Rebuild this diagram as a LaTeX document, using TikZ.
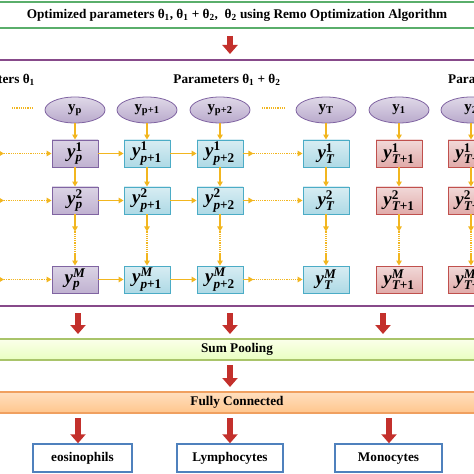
\documentclass[tikz,border=0pt]{standalone}
\usepackage{amsmath}
\usepackage{fontspec}
\setmainfont{Liberation Serif}
\usetikzlibrary{arrows.meta,shapes.geometric,calc}
\definecolor{ycol}{HTML}{F2B61F}
\definecolor{rcol}{HTML}{C3302C}
\definecolor{pdraw}{HTML}{8064A2}
\definecolor{cdraw}{HTML}{4BACC6}
\definecolor{rdraw}{HTML}{C0504D}
\definecolor{frame}{HTML}{874A8A}
\definecolor{gline}{HTML}{5AAE6B}
\definecolor{bdraw}{HTML}{4F81BD}
\definecolor{spline}{HTML}{A9C46A}
\definecolor{fcline}{HTML}{F0A060}
\tikzset{
  yarr/.style={draw=ycol, line width=1.1bp, -{Triangle[width=5.5bp,length=5bp]}},
  ydot/.style={draw=ycol, line width=1.1bp, dash pattern=on 1.1bp off 1.1bp},
  redarr/.style={draw=rcol, line width=6.5bp, -{Triangle[width=15bp,length=9bp]}},
  ell/.style={ellipse, draw=pdraw, line width=0.8bp, top color=pdraw!25, bottom color=pdraw!55, minimum width=60bp, minimum height=26bp, inner sep=0pt, font=\fontsize{15}{15}\selectfont\bfseries},
  cellbox/.style={rectangle, line width=0.9bp, minimum width=46bp, minimum height=27bp, inner sep=0pt, font=\fontsize{19}{19}\selectfont\bfseries\itshape},
  cpurple/.style={cellbox, draw=pdraw, top color=pdraw!28, bottom color=pdraw!50},
  ccyan/.style={cellbox, draw=cdraw, top color=cdraw!22, bottom color=cdraw!45},
  cred/.style={cellbox, draw=rdraw, top color=rdraw!22, bottom color=rdraw!48},
  outbox/.style={rectangle, draw=bdraw, line width=1.5bp, fill=white, minimum height=28bp, inner sep=0pt, text height=9.5bp, text depth=3bp, font=\fontsize{13.3}{13.3}\selectfont\bfseries},
  bandtext/.style={font=\fontsize{13.3}{13.3}\selectfont\bfseries, inner sep=0pt},
}
\newcommand{\ylab}[2]{\textit{y}$^{\textbf{#1}}_{#2}$}
\newcommand{\elab}[1]{y$_{\textbf{#1}}$}
\newcommand{\subp}{\textbf{\textit{p}}}
\newcommand{\subT}{\textbf{\textit{T}}}
\newcommand{\plusn}[1]{\textbf{\textup{+#1}}}
\begin{document}
\begin{tikzpicture}[x=1bp,y=-1bp]
\useasboundingbox (0,0) rectangle (474,474);
\fill[white] (0,0) rectangle (474,474);
% top banner
\draw[gline, line width=1.6bp, fill=white] (-6,2) rectangle (480,28);
\node[bandtext] (title) at (237,15.5) {Optimized parameters θ\textsubscript{1}, θ\textsubscript{1} + θ\textsubscript{2},\ \ θ\textsubscript{2} using Remo Optimization Algorithm};
\coordinate (t1) at (230,36); \coordinate (t2) at (230,54);
\draw[redarr] (t1) -- (t2);
% frame
\draw[frame, line width=1.3bp] (-6,60) rectangle (480,306);
\node[bandtext, anchor=east] (pl) at (35,80) {Parameters θ\textsubscript{1}};
\node[bandtext] (pm) at (227,80) {Parameters θ\textsubscript{1} + θ\textsubscript{2}};
\node[bandtext, anchor=west] (pr) at (448,80) {Parameters θ\textsubscript{2}};
% columns
\foreach \i/\x/\st/\es/\cs in {1/75/cpurple/p/\subp, 2/147/ccyan/p+1/\subp\plusn{1}, 3/220/ccyan/p+2/\subp\plusn{2}, 4/326/ccyan/T/\subT, 5/399/cred/1/\subT\plusn{1}, 6/471/cred/2/\subT\plusn{2}}{
  \node[ell] (e\i) at (\x,110) {\elab{\es}};
  \node[\st] (a\i) at (\x,153.5) {\ylab{\textup{1}}{\cs}};
  \node[\st] (b\i) at (\x,200.5) {\ylab{\textup{2}}{\cs}};
  \node[\st] (c\i) at (\x,279.5) {\ylab{\textit{M}}{\cs}};
  \draw[yarr] (e\i.south) -- (a\i.north);
  \draw[yarr] (a\i.south) -- (b\i.north);
  \draw[yarr] (b\i.south) -- ++(0,17) coordinate (vp\i);
  \draw[ydot] (vp\i) -- ++(0,24) coordinate (vq\i);
  \draw[yarr] (vq\i) -- (c\i.north);
}
% dotted gaps in ellipse row
\coordinate (d1) at (12,108); \coordinate (d2) at (32,108);
\draw[ydot] (d1) -- (d2);
\coordinate (d3) at (262,108); \coordinate (d4) at (285,108);
\draw[ydot] (d3) -- (d4);
% horizontal arrows
\foreach \r/\yy in {a/153.5, b/200.5, c/279.5}{
  \coordinate (L\r) at (-8,\yy);
  \coordinate (M\r) at (4,\yy);
  \draw[yarr] (L\r) -- (M\r);
  \draw[yarr, dash pattern=on 1.1bp off 1.1bp] (M\r) -- (\r1.west);
  \draw[yarr] (\r1.east) -- (\r2.west);
  \draw[yarr] (\r2.east) -- (\r3.west);
  \draw[yarr] (\r3.east) -- ++(10,0) coordinate (N\r);
  \draw[yarr, dash pattern=on 1.1bp off 1.1bp] (N\r) -- (\r4.west);
}
% red arrows below frame
\foreach \k/\x in {1/78, 2/230, 3/383}{
  \coordinate (s\k) at (\x,313); \coordinate (s\k e) at (\x,334);
  \draw[redarr] (s\k) -- (s\k e);
}
% Sum pooling band
\draw[draw=spline, line width=1.2bp, top color=green!20!yellow!8, bottom color=green!35!yellow!25] (-6,339) rectangle (480,360);
\node[bandtext] (sp) at (237,349.5) {Sum Pooling};
\coordinate (m1) at (230,365); \coordinate (m2) at (230,387);
\draw[redarr] (m1) -- (m2);
% Fully connected band
\draw[draw=fcline, line width=1.2bp, top color=orange!25, bottom color=orange!45] (-6,392) rectangle (480,413);
\node[bandtext] (fc) at (237,402.5) {Fully Connected};
\node[outbox, minimum width=99bp] (o1) at (82.5,458) {eosinophils};
\node[outbox, minimum width=106bp] (o2) at (230,458) {Lymphocytes};
\node[outbox, minimum width=107bp] (o3) at (388.5,458) {Monocytes};
\foreach \k/\x in {1/78, 2/230, 3/389}{
  \coordinate (f\k) at (\x,418);
  \draw[redarr] (f\k) -- (o\k.north -| f\k);
}
\end{tikzpicture}
\end{document}
